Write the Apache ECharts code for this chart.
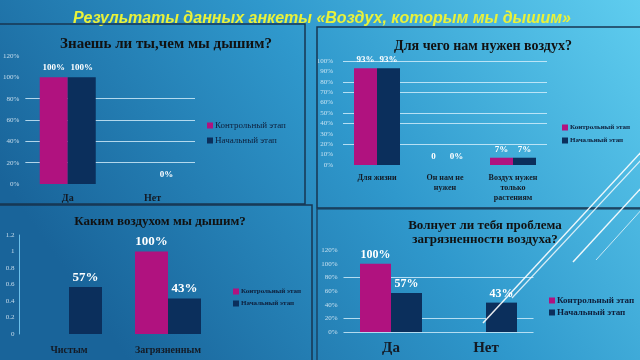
<!DOCTYPE html>
<html><head><meta charset="utf-8">
<script src="https://cdn.jsdelivr.net/npm/echarts@6/dist/echarts.min.js"></script>
<style>html,body{margin:0;padding:0;}#c{width:640px;height:360px;}</style>
</head><body><div id="c"></div>
<script>
// ---- data ----
const mainTitle = 'Результаты данных анкеты «Воздух, которым мы дышим»';
const seriesNames = ['Контрольный этап', 'Начальный этап'];

const q1Title = 'Знаешь ли ты,чем мы дышим?';
const q1Categories = ['Да', 'Нет'];
const q1Control = [100, null];
const q1Initial = [100, 0];

const q2Title = 'Для чего нам нужен воздух?';
const q2Categories = ['Для жизни', 'Он нам не\nнужен', 'Воздух нужен\nтолько\nрастениям'];
const q2Control = [93, 0, 7];
const q2Initial = [93, 0, 7];

const q3Title = 'Каким воздухом мы дышим?';
const q3Categories = ['Чистым', 'Загрязненным'];
const q3Control = [null, 1.00];
const q3Initial = [0.57, 0.43];

const q4Title = 'Волнует ли тебя проблема\nзагрязненности воздуха?';
const q4Categories = ['Да', 'Нет'];
const q4Control = [100, null];
const q4Initial = [57, 43];

// ---- style ----
const MAG = '#b0127f', NAVY = '#0b2f5c';
const SERIF = '"Liberation Serif", "DejaVu Serif", serif';
const W = 'rgba(215,240,252,0.8)', T = 'rgba(0,0,0,0)';

const chart = echarts.init(document.getElementById('c'), null, {renderer: 'canvas'});

function yAxis(gi, max, interval, fmt, margin, fs, lineColors, showAxisLine) {
  return {
    type: 'value', gridIndex: gi, min: 0, max: max, interval: interval,
    axisLabel: {formatter: fmt, color: 'rgba(235,245,252,0.8)', fontSize: fs, fontFamily: SERIF, margin: margin},
    axisLine: {show: !!showAxisLine, lineStyle: {color: '#6cc0ea', width: 1}},
    axisTick: {show: false},
    splitLine: {show: !!lineColors, showMinLine: true, showMaxLine: true, lineStyle: {color: lineColors || [T], width: 1}}
  };
}
function xAxis(gi, data, fs, margin, lh) {
  return {
    type: 'category', gridIndex: gi, data: data,
    axisLine: {show: false}, axisTick: {show: false},
    axisLabel: {interval: 0, color: '#141a24', fontWeight: 'bold', fontFamily: SERIF, fontSize: fs, margin: margin, lineHeight: lh}
  };
}
function bar(name, color, xi, data, bw, fs, fmt, dist) {
  return {
    type: 'bar', name: name, xAxisIndex: xi, yAxisIndex: xi, data: data,
    barWidth: bw, barGap: '0%', itemStyle: {color: color},
    label: {show: true, position: 'top', distance: dist, color: '#fff', fontWeight: 'bold',
      fontFamily: SERIF, fontSize: fs, formatter: fmt}
  };
}
function legend(left, top, fs, gap, bold) {
  return {
    data: seriesNames, orient: 'vertical', left: left, top: top, itemGap: gap,
    icon: 'rect', itemWidth: 6, itemHeight: 6, selectedMode: false,
    textStyle: {color: '#0e1e3a', fontSize: fs, fontFamily: SERIF, fontWeight: bold ? 'bold' : 'normal', padding: [0, 0, 0, -3]}
  };
}
const pct = p => p.value == null ? '' : p.value + '%';
const frac = p => p.value == null ? '' : Math.round(p.value * 100) + '%';
const q2ctrl = p => p.value === 0 ? '0' : p.value + '%';

const titleStyle = {color: '#111', fontFamily: SERIF, fontWeight: 'bold'};

const option = {
  backgroundColor: {
    type: 'linear', x: 1, y: 0, x2: 0.2, y2: 1,
    colorStops: [{offset: 0, color: '#5fcdef'}, {offset: 0.5, color: '#2f98cc'}, {offset: 1, color: '#19649a'}]
  },
  animation: false,
  title: [
    {text: mainTitle, left: 317, top: 6, textAlign: 'center',
      textStyle: {color: '#e9f23a', fontFamily: '"Liberation Sans Narrow", "Liberation Sans", sans-serif', fontStyle: 'italic', fontWeight: 'bold', fontSize: 16}},
    {text: q1Title, left: 161, top: 32, textAlign: 'center', textStyle: Object.assign({fontSize: 15}, titleStyle)},
    {text: q2Title, left: 478, top: 34, textAlign: 'center', textStyle: Object.assign({fontSize: 14}, titleStyle)},
    {text: q3Title, left: 155, top: 210, textAlign: 'center', textStyle: Object.assign({fontSize: 13}, titleStyle)},
    {text: q4Title, left: 480, top: 214, textAlign: 'center', textStyle: Object.assign({fontSize: 13, lineHeight: 14}, titleStyle)}
  ],
  legend: [
    legend(202, 116, 9, 6, false),
    legend(557, 119, 7, 6, true),
    legend(228, 283, 7, 5, true),
    legend(544, 291, 9, 3, true)
  ],
  grid: [
    {left: 25, width: 170, top: 56, height: 128},
    {left: 343, width: 204, top: 61, height: 104},
    {left: 19.5, width: 198, top: 235, height: 99},
    {left: 343.5, width: 190, top: 250, height: 82}
  ],
  xAxis: [
    xAxis(0, q1Categories, 10, 8, 12),
    xAxis(1, q2Categories, 8, 8, 10),
    xAxis(2, q3Categories, 10, 10, 12),
    xAxis(3, q4Categories, 15, 8, 16)
  ],
  yAxis: [
    yAxis(0, 120, 20, '{value}%', 6, 7, [T, W, W, W, W, T, T]),
    yAxis(1, 100, 10, '{value}%', 10, 7, [T, T, W, T, W, W, T, W, W, T, W]),
    yAxis(2, 1.2, 0.2, v => (Math.round(v * 10) / 10).toString(), 5, 7, null, true),
    yAxis(3, 120, 20, '{value}%', 6, 7, [W, W, T, T, W, T, T])
  ],
  series: [
    bar(seriesNames[0], MAG, 0, q1Control, 28, 9, pct, 5),
    bar(seriesNames[1], NAVY, 0, q1Initial, 28, 9, pct, 5),
    bar(seriesNames[0], MAG, 1, q2Control, 23, 9, q2ctrl, 4),
    bar(seriesNames[1], NAVY, 1, q2Initial, 23, 9, pct, 4),
    bar(seriesNames[0], MAG, 2, q3Control, 33, 13, frac, 3),
    bar(seriesNames[1], NAVY, 2, q3Initial, 33, 13, frac, 3),
    bar(seriesNames[0], MAG, 3, q4Control, 31, 12, pct, 3),
    bar(seriesNames[1], NAVY, 3, q4Initial, 31, 12, pct, 3)
  ],
  graphic: [
    {type: 'rect', shape: {x: -2, y: 24, width: 307, height: 180}, style: {fill: null, stroke: '#173652', lineWidth: 1.5}, z: 100},
    {type: 'rect', shape: {x: 317, y: 27, width: 330, height: 181}, style: {fill: null, stroke: '#173652', lineWidth: 1.5}, z: 100},
    {type: 'rect', shape: {x: -2, y: 205, width: 314, height: 160}, style: {fill: null, stroke: '#173652', lineWidth: 1.5}, z: 100},
    {type: 'rect', shape: {x: 317, y: 209, width: 330, height: 160}, style: {fill: null, stroke: '#173652', lineWidth: 1.2}, z: 100},
    {type: 'line', shape: {x1: 483, y1: 323, x2: 643, y2: 150}, style: {stroke: 'rgba(255,255,255,0.9)', lineWidth: 1.5}, z: 101},
    {type: 'line', shape: {x1: 512, y1: 298, x2: 643, y2: 158}, style: {stroke: 'rgba(255,255,255,0.8)', lineWidth: 1.2}, z: 101},
    {type: 'line', shape: {x1: 573, y1: 262, x2: 643, y2: 186}, style: {stroke: 'rgba(255,255,255,0.9)', lineWidth: 1.5}, z: 101},
    {type: 'line', shape: {x1: 596, y1: 260, x2: 643, y2: 208}, style: {stroke: 'rgba(255,255,255,0.7)', lineWidth: 1}, z: 101}
  ]
};
chart.setOption(option);
</script></body></html>
